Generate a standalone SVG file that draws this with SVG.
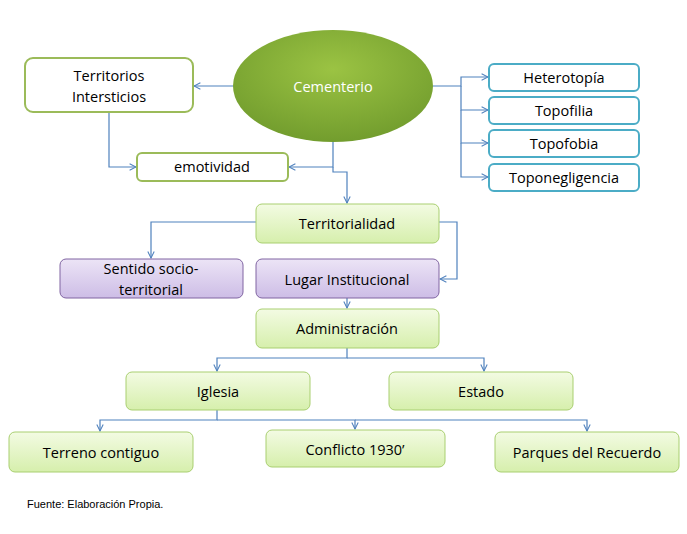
<svg xmlns="http://www.w3.org/2000/svg" width="687" height="534" viewBox="0 0 687 534">
<defs>
<linearGradient id="gg" x1="0" y1="0" x2="0" y2="1"><stop offset="0" stop-color="#f3fbe3"/><stop offset="1" stop-color="#d6efac"/></linearGradient>
<linearGradient id="pg" x1="0" y1="0" x2="0" y2="1"><stop offset="0" stop-color="#ece4f6"/><stop offset="1" stop-color="#cdbde6"/></linearGradient>
<radialGradient id="eg" cx="0.5" cy="0.35" r="0.7"><stop offset="0" stop-color="#9bc343"/><stop offset="1" stop-color="#6f9a2c"/></radialGradient>
<marker id="a" viewBox="0 0 10 10" refX="9" refY="5" markerWidth="8" markerHeight="8" orient="auto" markerUnits="userSpaceOnUse"><path d="M1,1 L9,5 L1,9" fill="none" stroke="#4f81bd" stroke-width="1.3"/></marker>
</defs>
<style>
text{font-family:"Open Sans","Liberation Sans",sans-serif;font-size:14.5px;fill:#000;text-anchor:middle}
.w{fill:#fff;stroke:#9bbb59;stroke-width:2}
.g{fill:url(#gg);stroke:#a9cf70;stroke-width:1}
.p{fill:url(#pg);stroke:#8064a2;stroke-width:1}
.b{fill:#fff;stroke:#4bacc6;stroke-width:2}
.c path{fill:none;stroke:#4f81bd;stroke-width:1.2;marker-end:url(#a)}
</style>
<rect width="687" height="534" fill="#fff"/>
<g class="c">
<path d="M233,86 H194"/>
<path d="M433,86 H461 V77 H488"/>
<path d="M461,86 V110 H488"/>
<path d="M461,110 V143 H488"/>
<path d="M461,143 V177 H488"/>
<path d="M109,112 V167 H136"/>
<path d="M333,142 V167 H289"/>
<path d="M333,167 V172 H347 V203"/>
<path d="M256,222 H151 V258"/>
<path d="M439,222 H457 V279 H440"/>
<path d="M347,298 V308"/>
<path d="M347,348 V358 H217 V371"/>
<path d="M347,358 H484 V371"/>
<path d="M217,410 V420 H100 V431"/>
<path d="M217,420 H355 V429"/>
<path d="M355,420 H587 V431"/>
</g>
<g id="cementerio"><ellipse cx="333" cy="86" rx="100" ry="56" fill="url(#eg)"/><text x="333" y="92" style="fill:#fff">Cementerio</text></g>
<g id="territorios"><rect class="w" x="25" y="58" width="168" height="54" rx="8"/><text x="109" y="81">Territorios</text><text x="109" y="102">Intersticios</text></g>
<g id="emotividad"><rect class="w" x="137" y="153" width="151" height="28" rx="5"/><text x="212" y="172">emotividad</text></g>
<g id="heterotopia"><rect class="b" x="489" y="64" width="150" height="27" rx="5"/><text x="564" y="83">Heterotopía</text></g>
<g id="topofilia"><rect class="b" x="489" y="97" width="150" height="27" rx="5"/><text x="564" y="116">Topofilia</text></g>
<g id="topofobia"><rect class="b" x="489" y="130" width="150" height="27" rx="5"/><text x="564" y="149">Topofobia</text></g>
<g id="toponegligencia"><rect class="b" x="489" y="164" width="150" height="27" rx="5"/><text x="564" y="183">Toponegligencia</text></g>
<g id="territorialidad"><rect class="g" x="256" y="204" width="183" height="39" rx="6"/><text x="347" y="229">Territorialidad</text></g>
<g id="sentido"><rect class="p" x="60" y="259" width="183" height="39" rx="6"/><text x="151" y="274">Sentido socio-</text><text x="151" y="295">territorial</text></g>
<g id="lugar"><rect class="p" x="256" y="259" width="183" height="39" rx="6"/><text x="347" y="285">Lugar Institucional</text></g>
<g id="administracion"><rect class="g" x="256" y="309" width="183" height="39" rx="6"/><text x="347" y="334">Administración</text></g>
<g id="iglesia"><rect class="g" x="126" y="372" width="184" height="38" rx="6"/><text x="218" y="397">Iglesia</text></g>
<g id="estado"><rect class="g" x="389" y="372" width="184" height="38" rx="6"/><text x="481" y="397">Estado</text></g>
<g id="terreno"><rect class="g" x="9" y="432" width="184" height="40" rx="6"/><text x="101" y="458">Terreno contiguo</text></g>
<g id="conflicto"><rect class="g" x="266" y="430" width="179" height="37" rx="6"/><text x="355" y="455">Conflicto 1930’</text></g>
<g id="parques"><rect class="g" x="495" y="432" width="184" height="40" rx="6"/><text x="587" y="458">Parques del Recuerdo</text></g>
<text x="27" y="508" style="font-family:'Liberation Sans',sans-serif;font-size:11px;text-anchor:start">Fuente: Elaboración Propia.</text>
</svg>
